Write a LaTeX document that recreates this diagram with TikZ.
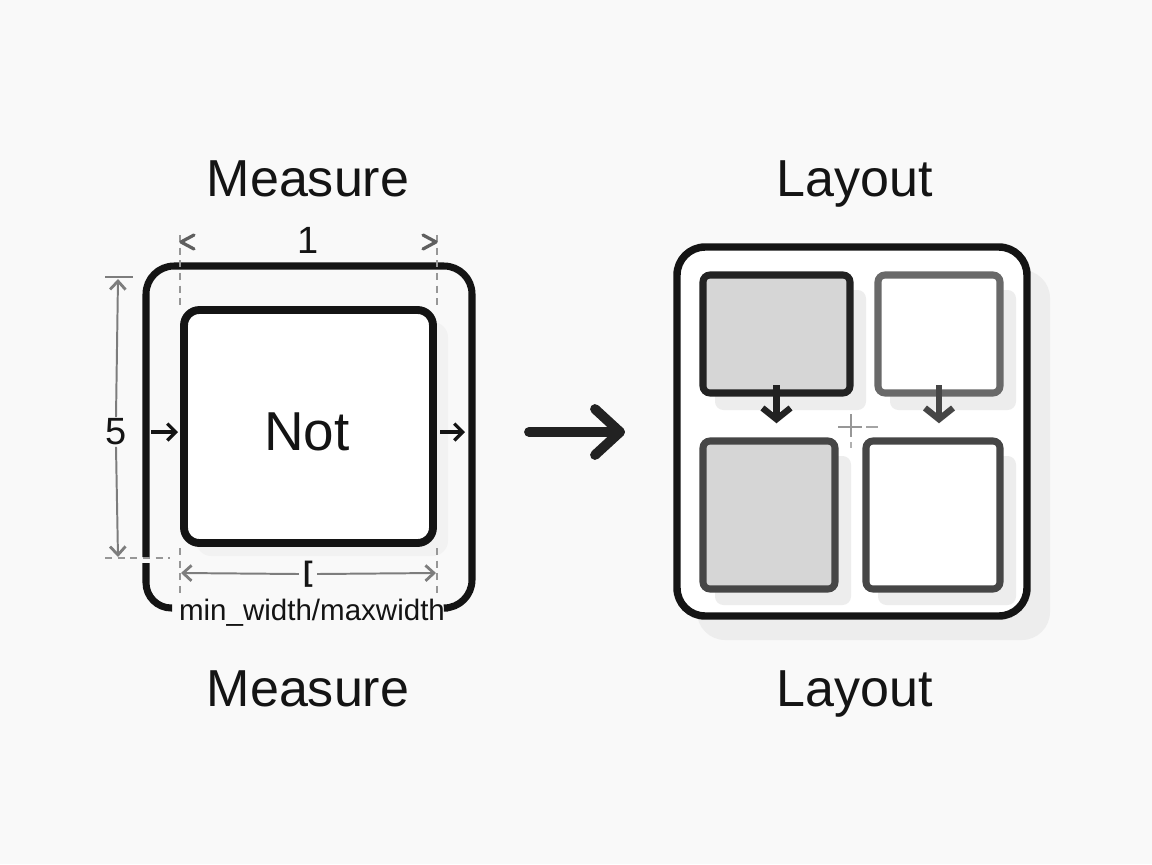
\documentclass[tikz,border=0pt]{standalone}
\usepackage{fontspec}
\setmainfont{Liberation Sans}
\usetikzlibrary{arrows.meta,fit}
\definecolor{bg}{RGB}{249,249,249}
\definecolor{dimgray}{RGB}{125,125,125}
\definecolor{chev}{RGB}{95,95,95}
\definecolor{boxfill}{RGB}{214,214,214}
\definecolor{shadowc}{RGB}{237,237,237}
\definecolor{lightshadow}{RGB}{242,242,242}
\definecolor{ink}{RGB}{20,20,20}
\definecolor{darkstroke}{RGB}{34,34,34}
\definecolor{midstroke}{RGB}{105,105,105}
\definecolor{bstroke}{RGB}{70,70,70}
\begin{document}
\begin{tikzpicture}[x=0.025cm,y=-0.025cm,
  title/.style={font=\fontsize{37pt}{40pt}\selectfont, text=ink, inner sep=0, anchor=base},
  dimlabel/.style={font=\fontsize{27pt}{30pt}\selectfont, text=ink, inner sep=1pt},
  dimline/.style={draw=dimgray, line width=1.4pt},
  dimdash/.style={draw=dimgray!80, line width=1.1pt, dash pattern=on 5pt off 4pt},
  chevron/.style={draw=chev, line width=2.3pt, line cap=round, line join=round},
  barb/.style={-{Straight Barb[length=6pt,width=11pt,line width=2pt]}},
  sidearrow/.style={draw=ink, line width=2.3pt, -{Straight Barb[length=6pt,width=12pt,line width=2.3pt]}},
  fitbox/.style={inner sep=0pt},
  panelbox/.style={fitbox, line width=5pt, rounded corners=5pt},
  downarr/.style={line width=4.3pt, -{Straight Barb[length=8pt,width=20pt,line width=4.5pt]}}
]
\fill[bg] (0,0) rectangle (1152,864);
\useasboundingbox (0,0) rectangle (1152,864);

% ---------- left panel ----------
\node[title] (mtop) at (308,196) {Measure};
\node[title] (mbot) at (308,706) {Measure};

% outer box (with gaps)
\draw[ink, line width=5pt, rounded corners=18pt] (172,608) -- (146,608) -- (146,563);
\draw[ink, line width=5pt, rounded corners=20pt] (146,557) -- (146,266) -- (472,266) -- (472,608) -- (448,608);

% inner box
\fill[lightshadow, rounded corners=11pt] (196,322) rectangle (448,556);
\node[fitbox, fit={(184,310)(433,543)}, draw=ink, fill=white, line width=5.6pt, rounded corners=11pt] (notbox) {};
\node[font=\fontsize{39pt}{42pt}\selectfont, text=ink] (nottxt) at (307,432) {Not};

% top dimension
\draw[dimdash] (180,235) -- (180,305);
\draw[dimdash] (437,235) -- (437,305);
\draw[chevron] (194,235) -- (181,242) -- (194,249);
\draw[chevron] (423,235) -- (436,242) -- (423,249);
\node[dimlabel] (one) at (308,240) {1};

% left dimension
\coordinate (ltop) at (118,279);
\coordinate (lbot) at (118,557);
\draw[dimline] (105,277) -- (133,277);
\draw[dimdash] (105,558) -- (170,558);
\node[dimlabel] (five) at (116,432) {5};
\draw[dimline, barb] (five.north) -- (ltop);
\draw[dimline, barb] (five.south) -- (lbot);

% side arrows
\coordinate (la0) at (151,432);
\coordinate (la1) at (178,432);
\coordinate (ra0) at (440,432);
\coordinate (ra1) at (465,432);
\draw[sidearrow] (la0) -- (la1);
\draw[sidearrow] (ra0) -- (ra1);

% bottom dimension
\draw[dimdash] (180,548) -- (180,596);
\draw[dimdash] (437,548) -- (437,596);
\node[font=\fontsize{20pt}{22pt}\bfseries\selectfont, text=ink, inner sep=3pt] (brk) at (308,574) {[};
\coordinate (bl) at (181,573);
\coordinate (br) at (436,573);
\draw[dimline, barb] (brk.west) -- (bl);
\draw[dimline, barb] (brk.east) -- (br);
\node[font=\fontsize{21pt}{24pt}\selectfont, text=ink, inner sep=0] (mm) at (312,613) {min\_width/maxwidth};

% ---------- middle arrow ----------
\coordinate (ma0) at (529,432);
\coordinate (ma1) at (620,432);
\draw[draw=darkstroke, line width=7pt, line cap=round] (ma0) -- (ma1);
\draw[draw=darkstroke, line width=7pt, line cap=round, line join=round] (595,409) -- (ma1) -- (595,455);

% ---------- right panel ----------
\node[title] (ltopt) at (855,196) {Layout};
\node[title] (lbott) at (855,706) {Layout};

\fill[shadowc, rounded corners=20pt] (697,270) rectangle (1050,640);
\node[fitbox, fit={(677,247)(1027,616)}, draw=ink, fill=white, line width=5.3pt, rounded corners=20pt] (panel) {};

\fill[shadowc, rounded corners=6pt] (715,290) rectangle (866,410);
\fill[shadowc, rounded corners=6pt] (890,290) rectangle (1016,410);
\fill[shadowc, rounded corners=6pt] (715,456) rectangle (851,605);
\fill[shadowc, rounded corners=6pt] (878,456) rectangle (1016,605);

\node[panelbox, fit={(703,275)(850,393)}, draw=darkstroke, fill=boxfill] (tl) {};
\node[panelbox, fit={(878,275)(1000,393)}, draw=midstroke, fill=white] (tr) {};
\node[panelbox, fit={(703,441)(835,589)}, draw=bstroke, fill=boxfill] (bl2) {};
\node[panelbox, fit={(866,441)(1000,589)}, draw=bstroke, fill=white] (br2) {};

\draw[downarr, draw=darkstroke] ([yshift=8pt]tl.south) -- ++(0,38);
\draw[downarr, draw=bstroke] ([yshift=8pt]tr.south) -- ++(0,38);

% crosshair
\coordinate (cx) at (851,427);
\draw[dimgray!80, line width=1.3pt] ([xshift=-9pt]cx) -- ([xshift=8pt]cx);
\draw[dimgray!80, line width=1.3pt] ([yshift=9pt]cx) -- ([yshift=-7pt]cx);
\draw[dimgray!70, line width=1.1pt] ([xshift=11pt]cx) -- ([xshift=19pt]cx);
\draw[dimgray!60, line width=1pt] ([yshift=-11pt]cx) -- ([yshift=-15pt]cx);
\end{tikzpicture}
\end{document}
